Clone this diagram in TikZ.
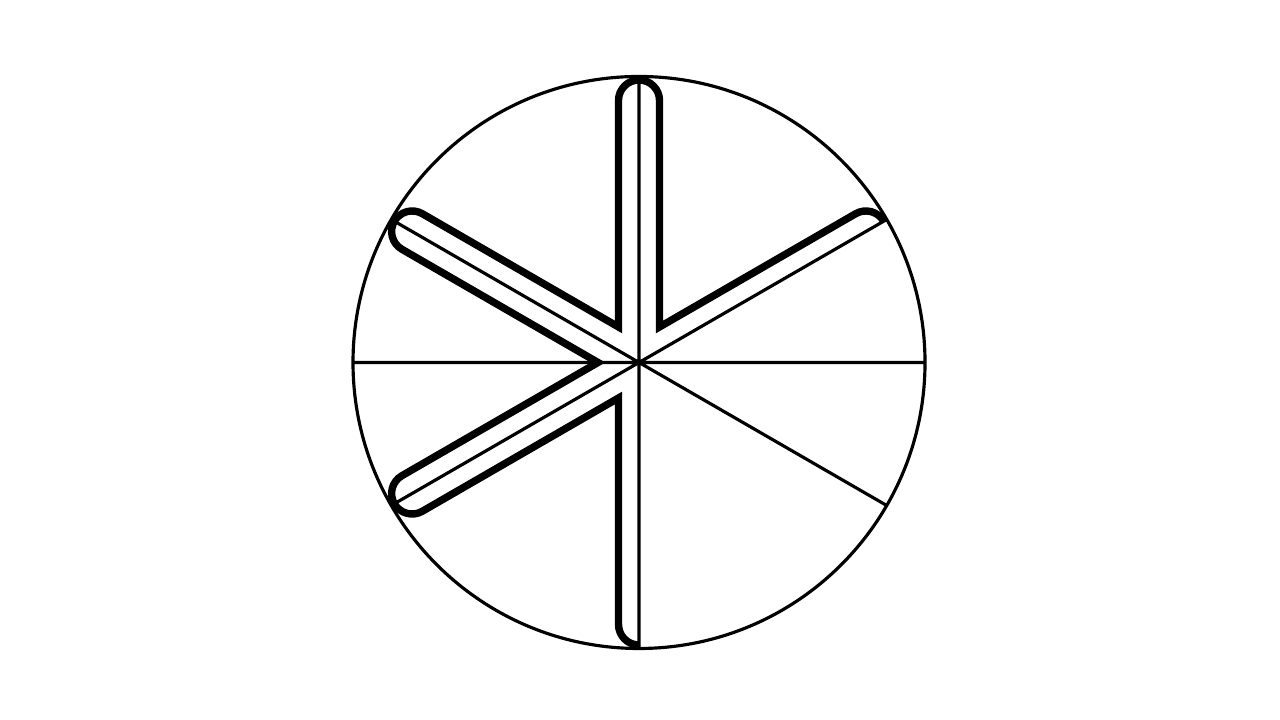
\documentclass[tikz,border=0pt]{standalone}
\begin{document}
\begin{tikzpicture}
		\useasboundingbox (0,0)rectangle(12.8,7.2);
		\begin{scope}[shift={(6.39,3.575)}]
		\draw [line width=.9pt] (0,0) circle (2.86);
		\draw [line width=.9pt] (-2.86,0)--(2.86,0) (0,-2.86)--(0,2.86)
		(210:2.86)--(30:2.86) (150:2.86)--(330:2.86);
		\draw [line width=2.1pt,line join=miter]
		(30:2.825) arc (30:120:.205) -- (60:.41) -- (.205,2.62) arc (0:180:.205)
		-- (120:.41) -- (-2.1665,1.4875) arc (60:240:.205)
		-- (180:.41) -- (-2.3715,-1.1325) arc (120:300:.205)
		-- (240:.41) -- (-.205,-2.62) arc (180:270:.205);
		\end{scope}
		\end{tikzpicture}
\end{document}
